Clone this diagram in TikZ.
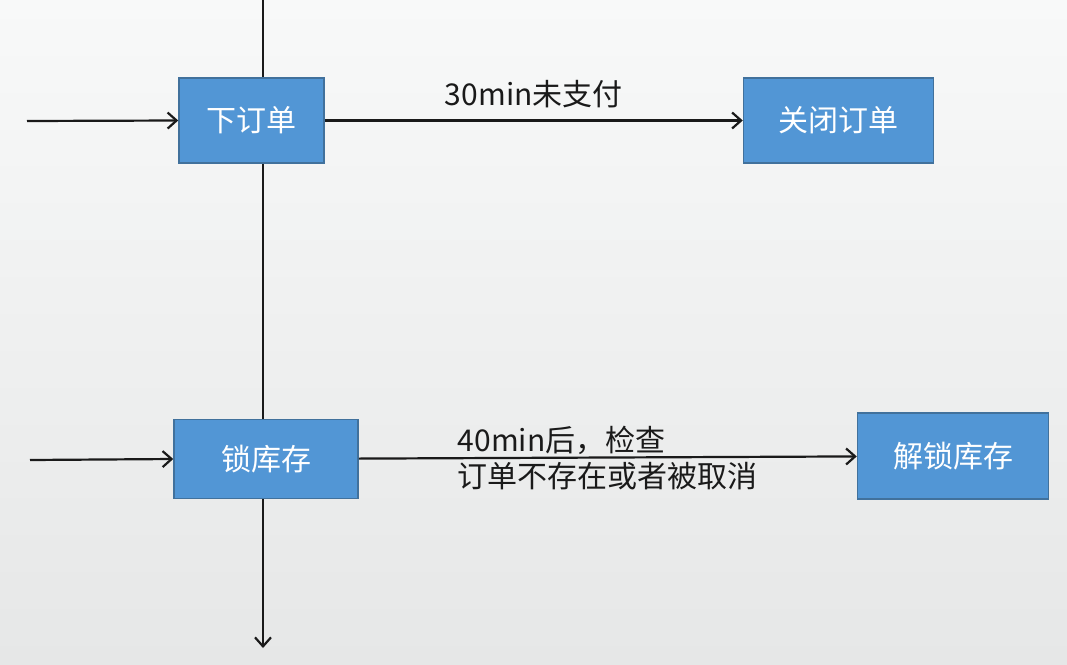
\documentclass[tikz,border=0pt]{standalone}
\usepackage{fontspec}
\setmainfont{Noto Sans CJK SC}
\usetikzlibrary{arrows.meta,positioning}
\definecolor{BoxBlue}{HTML}{5296D5}
\definecolor{BoxEdge}{HTML}{41719C}
\definecolor{BgTop}{HTML}{F8F9F9}
\definecolor{BgBottom}{HTML}{E6E7E7}
\definecolor{Ink}{HTML}{1A1A1A}

\begin{document}
\begin{tikzpicture}[x=1pt, y=-1pt, font=\fontsize{30pt}{36pt}\selectfont,
	box/.style={draw=BoxEdge, fill=BoxBlue, line width=1.5pt, text=white, minimum height=85pt, inner sep=0pt},
	flow/.style={line width=2.2pt, draw=Ink, -{Straight Barb[length=9pt,width=16pt]}}]
	\shade[top color=BgTop, bottom color=BgBottom] (0,0) rectangle (1067,664);
	\useasboundingbox (0,0) rectangle (1067,664);
	\coordinate (top) at (263,0);
	\coordinate (bottom) at (263,648);
	\coordinate (in1) at (27,121);
	\coordinate (in2) at (30,460);
	\node[box, minimum width=145pt] (order) at (251.5,120.5) {下订单};
	\node[box, minimum width=190pt, right=418pt of order] (close) {关闭订单};
	\node[box, minimum width=184pt, minimum height=79pt] (lock) at (266,459) {锁库存};
	\node[box, minimum width=191pt, minimum height=86pt, right=498pt of lock, yshift=3pt] (unlock) {解锁库存};
	\draw[line width=2.2pt, draw=Ink]
		(top) -- (top |- order.north)
		(top |- order.south) -- (top |- lock.north);
	\draw[flow] (top |- lock.south) -- (bottom);
	\draw[flow] (in1) -- (order.west);
	\draw[flow] (in2) -- (lock.west);
	\draw[flow] (order) -- node[above=8pt, text=Ink] (late) {30min未支付} (close);
	\draw[flow] (lock) -- node[align=left, text=Ink] (check) {40min后，检查\\订单不存在或者被取消} (unlock);
\end{tikzpicture}
\end{document}
